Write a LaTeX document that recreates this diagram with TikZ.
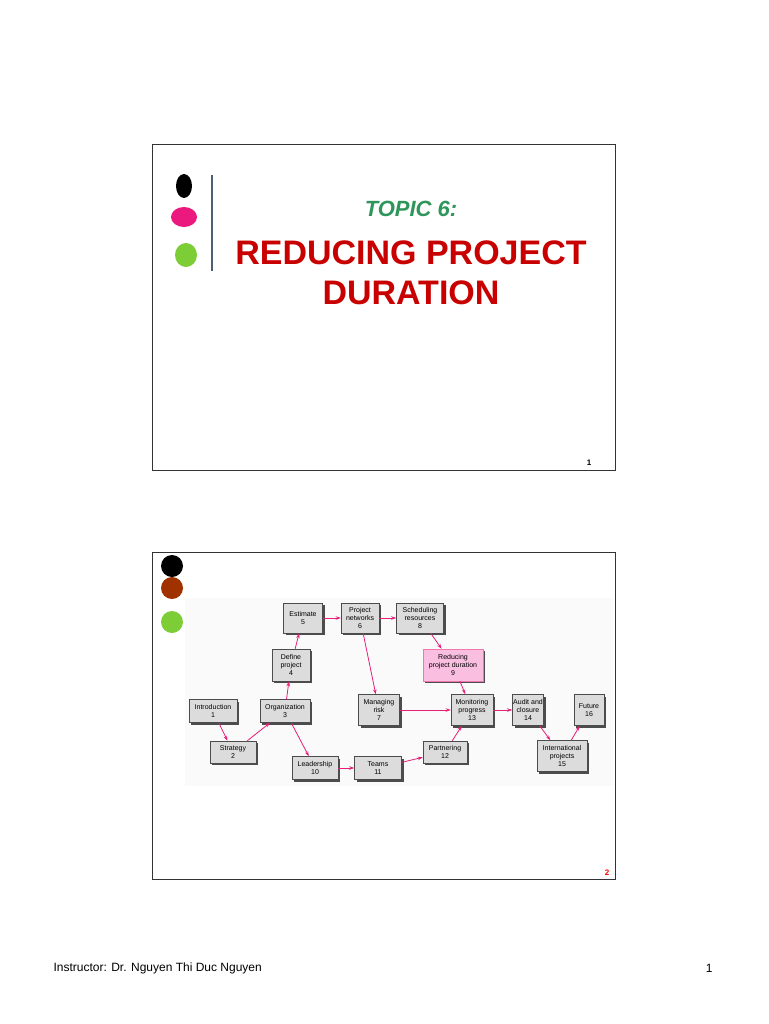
\documentclass[tikz,border=0pt]{standalone}
\usepackage{fontspec}
\setmainfont{Liberation Sans}
\usetikzlibrary{shadows,arrows.meta}
\definecolor{topicgreen}{RGB}{46,150,90}
\definecolor{titlered}{RGB}{200,0,0}
\definecolor{mag}{RGB}{230,30,120}
\definecolor{boxgray}{RGB}{220,220,220}
\definecolor{pinkbox}{RGB}{250,190,225}
\definecolor{brownc}{RGB}{160,50,0}
\definecolor{greenc}{RGB}{125,205,55}
\definecolor{pinkc}{RGB}{235,25,125}
\definecolor{linec}{RGB}{80,95,120}
\tikzset{
 slide/.style={draw=black!80,line width=0.9pt},
 tb/.style={draw=black!70,fill=boxgray,line width=0.5pt,minimum width=#1,minimum height=22pt,inner sep=0.5pt,align=center,font=\fontsize{7}{7.6}\selectfont,
   drop shadow={shadow xshift=2pt,shadow yshift=-2pt,fill=black!70,opacity=1}},
 tb/.default=42pt,
 ar/.style={draw=mag,line width=0.8pt,-{Stealth[length=5pt,width=3.5pt]}},
}
\begin{document}
\begin{tikzpicture}[x=1pt,y=-1pt]
\useasboundingbox (0,0) rectangle (768,1024);
\fill[white] (0,0) rectangle (768,1024);
% slide 1
\draw[slide] (152,144) rectangle (615,470);
\fill[black] (184,186) ellipse (8 and 12);
\fill[pinkc] (184,217) ellipse (13 and 10);
\fill[greenc] (186,255) ellipse (11 and 12);
\draw[color=linec,line width=1.2pt] (212,175) -- (212,271);
\node[font=\fontsize{22}{24}\selectfont\bfseries\itshape,text=topicgreen] (topic) at (411,209) {TOPIC 6:};
\node[font=\fontsize{34}{40}\selectfont\bfseries,text=titlered,align=center] (title) at (411,273) {REDUCING PROJECT\\DURATION};
\node[font=\fontsize{8}{9}\selectfont\bfseries] (n1) at (589,463) {1};
% slide 2
\draw[slide] (152,552) rectangle (615,879);
\fill[black!2] (185,598) rectangle (613,786);
\fill[black] (172,566) circle (11);
\fill[brownc] (172,588) circle (11);
\fill[greenc] (172,622) circle (11);
\node[font=\fontsize{8}{9}\selectfont\bfseries,text=red] (n2) at (607,873) {2};
\node[tb=39pt,minimum height=30pt] (b5) at (303,618) {Estimate\\5};
\node[tb=38pt,minimum height=30pt] (b6) at (360,618) {Project\\networks\\6};
\node[tb=47pt,minimum height=30pt] (b8) at (420,618) {Scheduling\\resources\\8};
\node[tb=38pt,minimum height=32pt] (b4) at (291,665) {Define\\project\\4};
\node[tb=60pt,minimum height=32pt,fill=pinkbox,draw=mag!60,drop shadow={opacity=0}] (b9) at (453,665) {Reducing\\project duration\\9};
\node[tb=48pt,minimum height=23pt] (b1) at (213,711) {Introduction\\1};
\node[tb=50pt,minimum height=23pt] (b3) at (285,711) {Organization\\3};
\node[tb=41pt,minimum height=31pt] (b7) at (379,710) {Managing\\risk\\7};
\node[tb=42pt,minimum height=31pt] (b13) at (472,710) {Monitoring\\progress\\13};
\node[tb=31pt,minimum height=31pt] (b14) at (528,710) {Audit and\\closure\\14};
\node[tb=30pt,minimum height=31pt] (b16) at (589,710) {Future\\16};
\node[tb=46pt,minimum height=22pt] (b2) at (233,752) {Strategy\\2};
\node[tb=44pt,minimum height=22pt] (b12) at (445,752) {Partnering\\12};
\node[tb=50pt,minimum height=31pt] (b15) at (562,756) {International\\projects\\15};
\node[tb=46pt,minimum height=23pt] (b10) at (315,768) {Leadership\\10};
\node[tb=47pt,minimum height=23pt] (b11) at (378,768) {Teams\\11};
\draw[ar] (b1) -- (b2);
\draw[ar] (b2) -- (b3);
\draw[ar] (b3) -- (b4);
\draw[ar] (b4) -- (b5);
\draw[ar] (b5) -- (b6);
\draw[ar] (b6) -- (b8);
\draw[ar] (b8) -- (b9);
\draw[ar] (b9) -- (b13);
\draw[ar] (b6) -- (b7);
\draw[ar] (b7) -- (b13);
\draw[ar] (b3) -- (b10);
\draw[ar] (b10) -- (b11);
\draw[ar] (b11) -- (b12);
\draw[ar] (b12) -- (b13);
\draw[ar] (b13) -- (b14);
\draw[ar] (b14) -- (b15);
\draw[ar] (b15) -- (b16);
% footer
\node[anchor=west,font=\fontsize{12}{14}\selectfont] (foot) at (50,968) {Instructor: Dr. Nguyen Thi Duc Nguyen};
\node[anchor=east,font=\fontsize{12}{14}\selectfont] (pg) at (716,968) {1};
\end{tikzpicture}
\end{document}
